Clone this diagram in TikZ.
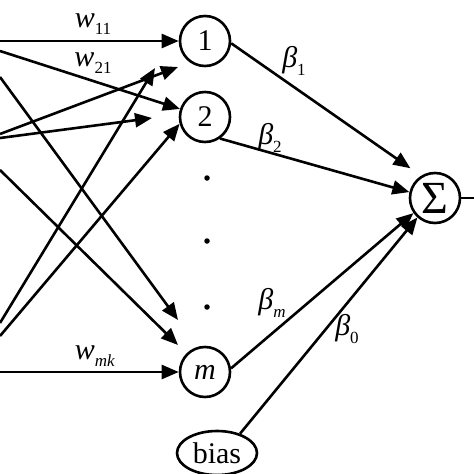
\documentclass[tikz,border=0pt]{standalone}
\usepackage{fontspec}
\setmainfont{Liberation Serif}
\usetikzlibrary{arrows.meta,shapes.geometric}
\newcommand{\wgt}[2]{\textit{#1}\raisebox{-0.55ex}{\fontsize{17}{17}\selectfont #2}}
\begin{document}
\begin{tikzpicture}[x=1pt,y=-1pt,line width=2.6pt,
		neuron/.style={draw, circle,inner sep=0pt,minimum size=50pt,font=\fontsize{30}{30}\selectfont},
		biasnode/.style={draw, ellipse,inner sep=0pt,minimum width=80pt,minimum height=44pt,font=\fontsize{30}{30}\selectfont},
		dotnode/.style={fill, circle,inner sep=0pt,minimum size=5.5pt},
		lab/.style={font=\fontsize{30}{30}\selectfont},
		link/.style={-{Triangle[length=17pt,width=14pt]}}]
		\useasboundingbox (0,0) rectangle (474,474);
		\node[neuron] (h1) at (205,41) {1};
		\node[neuron] (h2) at (205,117) {2};
		\node[neuron] (hm) at (205,372) {\textit{m}};
		\node[neuron,font=\fontsize{46}{46}\selectfont] (sum) at (435,198) {Σ};
		\node[biasnode] (bias) at (217,453) {bias};
		\node[dotnode] (d1) at (207,178) {};
		\node[dotnode] (d2) at (207,241) {};
		\node[dotnode] (d3) at (207,307) {};
		% inputs (cut at the left edge)
		\coordinate (x1) at (0,41);
		\coordinate (x2) at (0,51);
		\coordinate (x3) at (0,77);
		\coordinate (x4) at (0,134);
		\coordinate (x5) at (0,138);
		\coordinate (x6) at (0,170);
		\coordinate (x7) at (0,323);
		\coordinate (x8) at (0,336);
		\coordinate (xk) at (0,372);
		\coordinate (e1) at (178,67);
		\coordinate (e2) at (155,68);
		\coordinate (e3) at (152,118);
		\coordinate (e4) at (178,320);
		\coordinate (e5) at (178,345);
		\coordinate (out) at (474,198);
		\draw[link] (x1) -- (h1);
		\draw[link] (x2) -- (h2);
		\draw[link] (x3) -- (e4);
		\draw[link] (x4) -- (e1);
		\draw[link] (x5) -- (e3);
		\draw[link] (x6) -- (e5);
		\draw[link] (x7) -- (e2);
		\draw[link] (x8) -- (h2.195);
		\draw[link] (xk) -- (hm);
		\draw[link,shorten >=13pt] (h1.-5) -- (sum.122);
		\draw[link] (h2.-55) -- (sum.167);
		\draw[link] (hm.8) -- (sum.215);
		\draw[link] (bias.40) -- (sum.228);
		\draw (sum) -- (out);
		% weights
		\node[lab] (lw11) at (93,24) {\wgt{w}{11}};
		\node[lab] (lw21) at (93,63) {\wgt{w}{21}};
		\node[lab] (lwmk) at (95,356) {\wgt{w}{\textit{mk}}};
		\node[lab] (lb1) at (294,61) {\wgt{β}{1}};
		\node[lab] (lb2) at (270,138) {\wgt{β}{2}};
		\node[lab] (lbm) at (272,303) {\wgt{β}{\textit{m}}};
		\node[lab] (lb0) at (347,329) {\wgt{β}{0}};
\end{tikzpicture}
\end{document}
